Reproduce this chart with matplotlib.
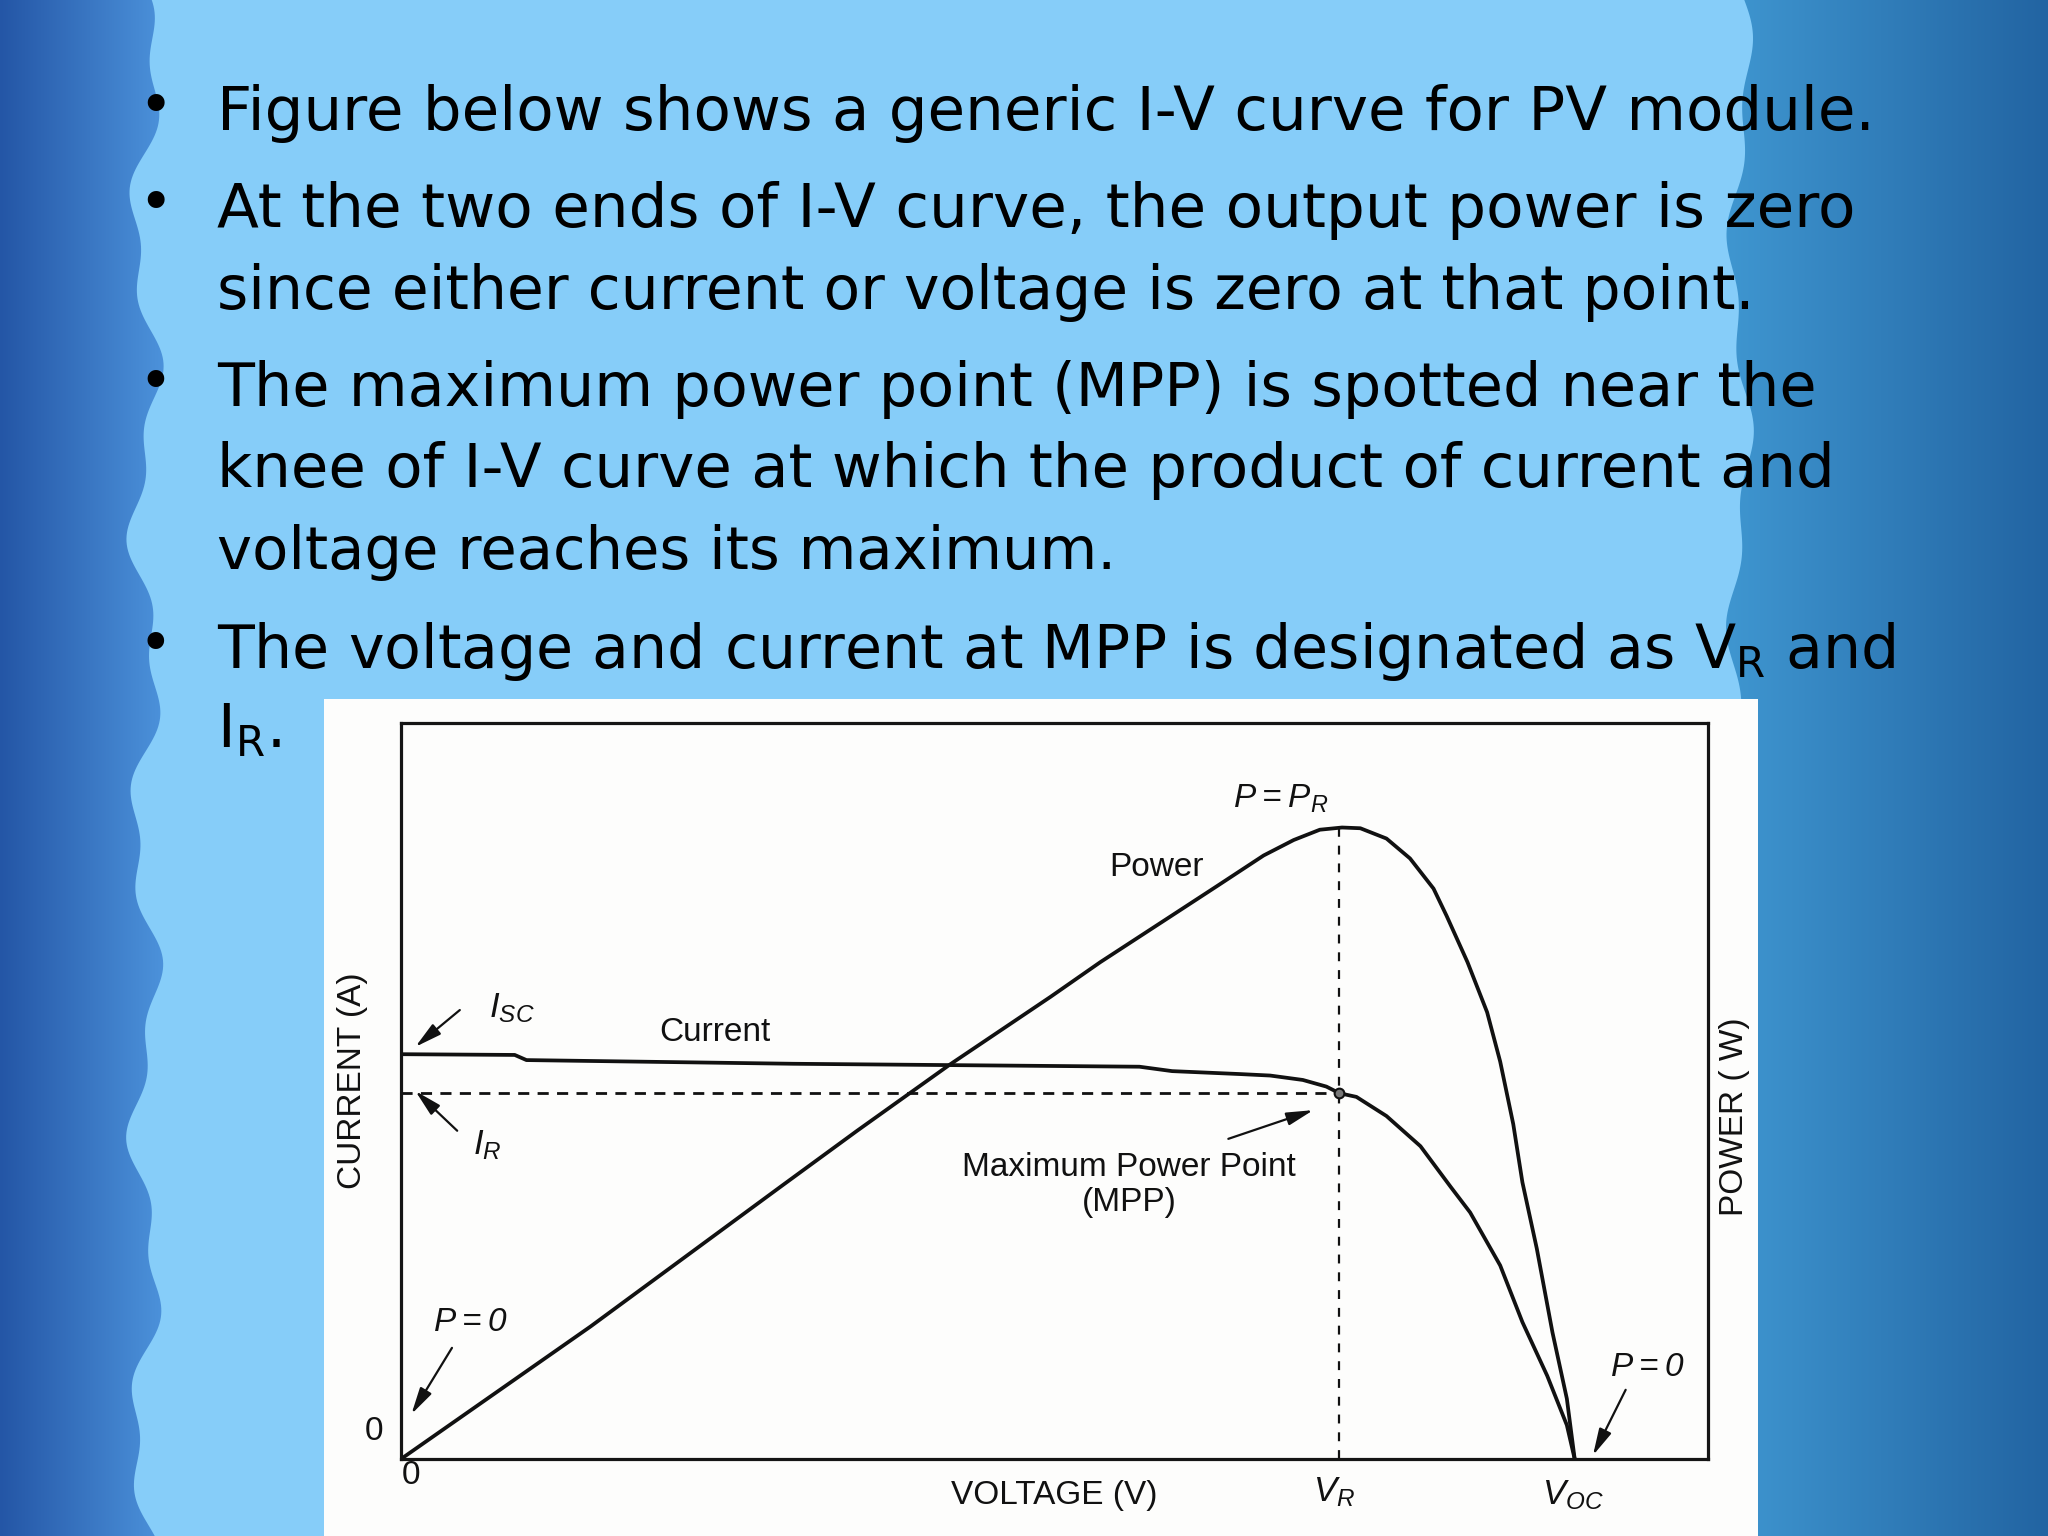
import numpy as np
import matplotlib
matplotlib.use("Agg")
import matplotlib.pyplot as plt
from matplotlib.patches import Rectangle, Polygon

# ---------------- data (axes fractions: voltage 0..1, current/power 0..1) ----------------
current_v = [0.000, 0.087, 0.096, 0.300, 0.565, 0.590, 0.642, 0.665, 0.690, 0.708, 0.718,
             0.731, 0.754, 0.780, 0.803, 0.818, 0.841, 0.858, 0.877, 0.892, 0.898]
current_i = [0.550, 0.549, 0.542, 0.537, 0.533, 0.527, 0.523, 0.521, 0.515, 0.506, 0.497,
             0.492, 0.466, 0.425, 0.370, 0.335, 0.263, 0.186, 0.113, 0.046, 0.000]

power_v = [0.000, 0.145, 0.292, 0.349, 0.420, 0.497, 0.535, 0.586, 0.624, 0.660, 0.683, 0.703,
           0.720, 0.734, 0.754, 0.772, 0.790, 0.800, 0.816, 0.831, 0.841, 0.851, 0.858, 0.869,
           0.881, 0.892, 0.898]
power_p = [0.000, 0.180, 0.372, 0.446, 0.536, 0.628, 0.675, 0.734, 0.778, 0.820, 0.841, 0.855,
           0.858, 0.857, 0.843, 0.816, 0.775, 0.738, 0.675, 0.607, 0.540, 0.455, 0.376, 0.286,
           0.172, 0.082, 0.000]

mpp_v = 0.718
mpp_i = 0.497
peak_p = 0.858

bullet_lines = [
    ("•", "Figure below shows a generic I-V curve for PV module."),
    ("•", "At the two ends of I-V curve, the output power is zero"),
    ("", "since either current or voltage is zero at that point."),
    ("•", "The maximum power point (MPP) is spotted near the"),
    ("", "knee of I-V curve at which the product of current and"),
    ("", "voltage reaches its maximum."),
    ("•", r"The voltage and current at MPP is designated as V$\mathregular{_R}$ and"),
    ("", r"I$\mathregular{_R}$."),
]
baselines_px = [130, 227, 309, 406, 487, 569, 668, 747]
line_widths_px = [1657, 1635, 1535, 1598, 1614, 898, 1676, None]

W, H = 2048, 1536
fig = plt.figure(figsize=(W / 100, H / 100), dpi=100)
fig.patch.set_facecolor("#86cdf9")

# ---------------- background decoration ----------------
bg = fig.add_axes([0, 0, 1, 1], zorder=-10)
bg.set_xlim(0, W)
bg.set_ylim(H, 0)
bg.axis("off")
bg.add_patch(Rectangle((0, 0), W, H, color="#86cdf9", zorder=0))

yy = np.linspace(0, H, 500)
left_edge = 145 + 12 * np.sin(yy / 48.0) + 7 * np.sin(yy / 19.0 + 1.3)
right_edge = 1740 + 9 * np.sin(yy / 60.0 + 0.5) + 5 * np.sin(yy / 21.0)

def grad_img(c0, c1, n=256):
    t = np.linspace(0, 1, n)[None, :, None]
    c0 = np.array(c0)[None, None, :] / 255.0
    c1 = np.array(c1)[None, None, :] / 255.0
    img = c0 + (c1 - c0) * t
    return np.repeat(img, 8, axis=0)

limg = bg.imshow(grad_img((36, 86, 166), (80, 152, 224)), extent=(0, 180, H, 0),
                 aspect="auto", zorder=1, interpolation="bicubic")
lpoly = Polygon(np.column_stack([np.r_[0, left_edge, 0], np.r_[0, yy, H]]),
                closed=True, transform=bg.transData, facecolor="none", edgecolor="none")
bg.add_patch(lpoly)
limg.set_clip_path(lpoly)

rimg = bg.imshow(grad_img((64, 152, 210), (34, 100, 162)), extent=(1715, W, H, 0),
                 aspect="auto", zorder=1, interpolation="bicubic")
rpoly = Polygon(np.column_stack([np.r_[W, right_edge, W], np.r_[0, yy, H]]),
                closed=True, transform=bg.transData, facecolor="none", edgecolor="none")
bg.add_patch(rpoly)
rimg.set_clip_path(rpoly)

# white chart panel
bg.add_patch(Rectangle((324, 699), 1758 - 324, H - 699, facecolor="#fdfdfc",
                       edgecolor="none", zorder=3))

# ---------------- bullet text ----------------
text_x = 217 / W
bullet_x = 155 / W
base_fs = 48
fig.canvas.draw()
renderer = fig.canvas.get_renderer()
last_fs = base_fs
sizes = []
for (b, line), target in zip(bullet_lines, line_widths_px):
    if target is None:
        sizes.append(last_fs)
        continue
    probe = fig.text(text_x, 0.5, line, fontsize=base_fs, family="DejaVu Sans")
    wpx = probe.get_window_extent(renderer=renderer).width
    probe.remove()
    last_fs = base_fs * target / wpx
    sizes.append(last_fs)

for (b, line), bl, fs in zip(bullet_lines, baselines_px, sizes):
    y = 1 - bl / H
    fig.text(text_x, y, line, fontsize=fs, family="DejaVu Sans",
             va="baseline", ha="left", color="black", zorder=5)
    if b:
        fig.text(bullet_x, y + 0.004, b, fontsize=fs * 0.95, family="DejaVu Sans",
                 va="baseline", ha="center", color="black", zorder=5)

# ---------------- the chart ----------------
ax = fig.add_axes([401 / W, 1 - 1459 / H, (1708 - 401) / W, (1459 - 723) / H], zorder=2)
ax.patch.set_alpha(0)
ax.set_xlim(0, 1)
ax.set_ylim(0, 1)
ax.set_xticks([])
ax.set_yticks([])
for s in ax.spines.values():
    s.set_linewidth(2.3)
    s.set_color("#151515")

lc = "#111111"
ax.plot(current_v, current_i, color=lc, lw=2.7, solid_capstyle="round", solid_joinstyle="round")
ax.plot(power_v, power_p, color=lc, lw=2.7, solid_capstyle="round", solid_joinstyle="round")
ax.plot([0, mpp_v], [mpp_i, mpp_i], color=lc, lw=2.0, linestyle=(0, (4, 3)))
ax.plot([mpp_v, mpp_v], [0, peak_p], color=lc, lw=1.6, linestyle=(0, (4, 4)))
ax.plot([mpp_v], [mpp_i], marker="o", ms=7, mfc="#777777", mec=lc, mew=1.5)

font = "Liberation Sans"
fsz = 24
def t(x, y, s, **kw):
    kw.setdefault("fontsize", fsz)
    kw.setdefault("family", font)
    kw.setdefault("ha", "center")
    kw.setdefault("va", "center")
    kw.setdefault("color", "#111111")
    ax.text(x, y, s, transform=ax.transAxes, clip_on=False, **kw)

t(0.673, 0.897, r"$\mathregular{P = P_R}$", style="italic")
t(0.578, 0.804, "Power")
t(0.240, 0.580, "Current")
t(0.085, 0.613, r"$\mathregular{I_{SC}}$", style="italic", fontsize=25)
t(0.066, 0.427, r"$\mathregular{I_R}$", style="italic", fontsize=25)
t(0.557, 0.372, "Maximum Power Point\n(MPP)", linespacing=1.15)
t(0.053, 0.186, r"$\mathregular{P = 0}$", style="italic")
t(0.954, 0.125, r"$\mathregular{P = 0}$", style="italic")
t(-0.021, 0.038, "0")
t(0.008, -0.023, "0")
t(0.500, -0.049, "VOLTAGE (V)")
t(0.714, -0.045, r"$\mathregular{V_R}$", style="italic", fontsize=25)
t(0.897, -0.049, r"$\mathregular{V_{OC}}$", style="italic", fontsize=25)
t(-0.037, 0.514, "CURRENT (A)", rotation=90)
t(1.020, 0.465, "POWER ( W)", rotation=90)

arrow_kw = dict(arrowstyle="-|>,head_width=0.22,head_length=0.9", color="#111111",
                lw=1.6, mutation_scale=18, shrinkA=0, shrinkB=0)
arrows = [
    ((0.045, 0.610), (0.011, 0.560)),
    ((0.043, 0.446), (0.011, 0.500)),
    ((0.633, 0.435), (0.698, 0.474)),
    ((0.039, 0.151), (0.008, 0.061)),
    ((0.937, 0.094), (0.912, 0.005)),
]
for tail, head in arrows:
    ax.annotate("", xy=head, xytext=tail, xycoords="axes fraction",
                textcoords="axes fraction", arrowprops=arrow_kw)

fig.savefig("out.png", dpi=100, facecolor=fig.get_facecolor())
